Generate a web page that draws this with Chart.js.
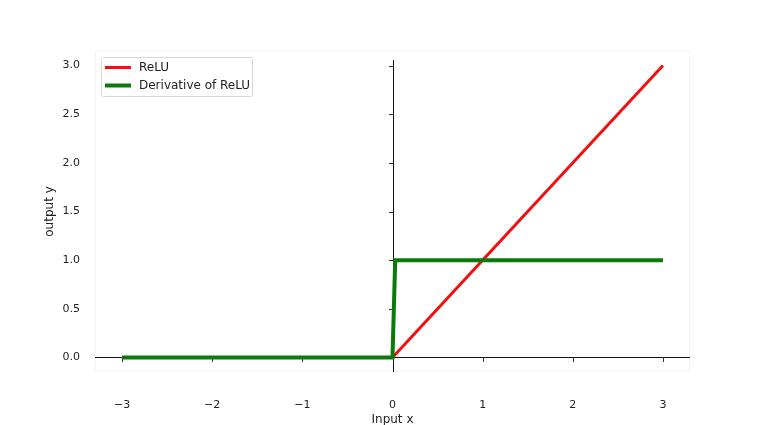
<!DOCTYPE html>
<html>
<head>
<meta charset="utf-8">
<script src="https://cdn.jsdelivr.net/npm/chart.js@4"></script>
<style>
html,body{margin:0;padding:0;background:#fff;}
#wrap{width:765px;height:425px;position:relative;}
</style>
</head>
<body>
<div id="wrap"><canvas id="c" width="765" height="425"></canvas></div>
<script>
// Data
const reluX = [-3, 0, 3];
const reluY = [0, 0, 3];
const derivX = [-3, 0, 0.03, 3];
const derivY = [0, 0, 1, 1];
const xTicks = [-3, -2, -1, 0, 1, 2, 3];
const yTicks = [0, 0.5, 1.0, 1.5, 2.0, 2.5, 3.0];
const seriesLabels = ['ReLU', 'Derivative of ReLU'];
const seriesColors = ['#f01010', '#0a7a0a'];

const FONT = 'DejaVu Sans';

const toPts = (xs, ys) => xs.map((x, i) => ({x: x, y: ys[i]}));

const spinePlugin = {
  id: 'spines',
  beforeDatasetsDraw(chart) {
    const {ctx, chartArea: a, scales: {x, y}} = chart;
    const x0 = x.getPixelForValue(0), y0 = y.getPixelForValue(0);
    ctx.save();
    ctx.strokeStyle = '#f3f3f3';
    ctx.lineWidth = 1;
    ctx.strokeRect(a.left + 0.5, a.top + 0.5, a.right - a.left - 1, a.bottom - a.top - 1);
    ctx.strokeStyle = '#111';
    ctx.lineWidth = 1;
    ctx.beginPath();
    ctx.moveTo(Math.round(x0) + 0.5, a.top + 9);
    ctx.lineTo(Math.round(x0) + 0.5, a.bottom);
    ctx.moveTo(a.left, Math.round(y0) + 0.5);
    ctx.lineTo(a.right, Math.round(y0) + 0.5);
    ctx.stroke();
    ctx.strokeStyle = '#333';
    ctx.beginPath();
    yTicks.forEach(v => {
      const py = Math.round(y.getPixelForValue(v)) + 0.5;
      ctx.moveTo(Math.round(x0) - 4, py);
      ctx.lineTo(Math.round(x0), py);
    });
    xTicks.forEach(v => {
      const px = Math.round(x.getPixelForValue(v)) + 0.5;
      ctx.moveTo(px, Math.round(y0));
      ctx.lineTo(px, Math.round(y0) + 5);
    });
    ctx.stroke();
    ctx.restore();
  },
  afterDatasetsDraw(chart) {
    const {ctx, chartArea: a} = chart;
    const bx = a.left + 6, by = a.top + 6, bw = 151, bh = 39;
    ctx.save();
    ctx.fillStyle = 'rgba(255,255,255,0.85)';
    ctx.strokeStyle = '#d8d8d8';
    ctx.lineWidth = 1;
    ctx.beginPath();
    if (ctx.roundRect) ctx.roundRect(bx + 0.5, by + 0.5, bw, bh, 2); else ctx.rect(bx + 0.5, by + 0.5, bw, bh);
    ctx.fill();
    ctx.stroke();
    chart.data.datasets.forEach((ds, i) => {
      const cy = by + 10.5 + i * 18;
      ctx.strokeStyle = ds.borderColor;
      ctx.lineWidth = ds.borderWidth;
      ctx.beginPath();
      ctx.moveTo(bx + 4, cy);
      ctx.lineTo(bx + 30, cy);
      ctx.stroke();
      ctx.fillStyle = '#222';
      ctx.font = '12px "' + FONT + '"';
      ctx.textBaseline = 'middle';
      ctx.textAlign = 'left';
      ctx.fillText(ds.label, bx + 38, cy);
    });
    ctx.restore();
  }
};

new Chart(document.getElementById('c'), {
  type: 'scatter',
  data: {
    datasets: [
      {label: seriesLabels[0], data: toPts(reluX, reluY), showLine: true, borderColor: seriesColors[0], backgroundColor: seriesColors[0], borderWidth: 3, pointRadius: 0, order: 2},
      {label: seriesLabels[1], data: toPts(derivX, derivY), showLine: true, borderColor: seriesColors[1], backgroundColor: seriesColors[1], borderWidth: 4, pointRadius: 0, order: 1}
    ]
  },
  options: {
    responsive: false,
    animation: false,
    devicePixelRatio: 1,
    layout: {padding: {left: 40, right: 75, top: 51, bottom: 0}},
    plugins: {legend: {display: false}, tooltip: {enabled: false}},
    scales: {
      x: {
        type: 'linear', position: 'bottom', min: -3.3, max: 3.3,
        afterFit(s) { s.height = 53; },
        afterBuildTicks(s) { s.ticks = xTicks.map(v => ({value: v})); },
        grid: {display: false, drawTicks: false},
        border: {display: false},
        ticks: {
          color: '#222', padding: 27, font: {family: FONT, size: 11},
          callback: v => (v < 0 ? '\u2212' + Math.abs(v) : String(v))
        },
        title: {display: true, text: 'Input x', color: '#222', font: {family: FONT, size: 12}, padding: {top: 0, bottom: -2}}
      },
      y: {
        type: 'linear', position: 'left', min: -0.15, max: 3.15,
        afterFit(s) { s.width = 55; },
        afterBuildTicks(s) { s.ticks = yTicks.map(v => ({value: v})); },
        grid: {display: false, drawTicks: false},
        border: {display: false},
        ticks: {
          color: '#222', padding: 15, font: {family: FONT, size: 11},
          callback: v => Number(v).toFixed(1)
        },
        title: {display: true, text: 'output y', color: '#222', font: {family: FONT, size: 12}, padding: {top: 3, bottom: 0}}
      }
    }
  },
  plugins: [spinePlugin]
});
</script>
</body>
</html>
